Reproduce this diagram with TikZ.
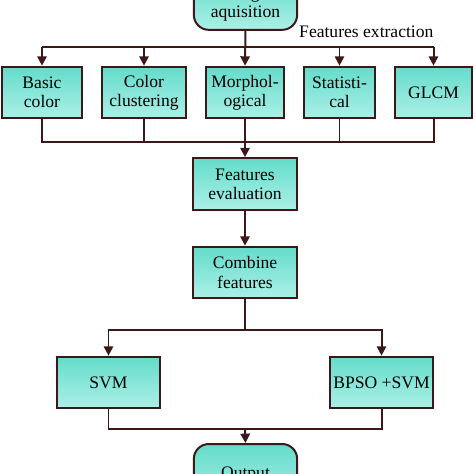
\documentclass[tikz,border=0pt]{standalone}
\usepackage{fontspec}
\setmainfont{Liberation Serif}
\usepackage{xcolor}
\usetikzlibrary{calc,arrows.meta,positioning}
\definecolor{boxtop}{RGB}{100, 220, 202}
\definecolor{boxbottom}{RGB}{172, 240, 231}
\definecolor{linebrown}{RGB}{60, 24, 24}

\tikzset{
    procbox/.style={draw=linebrown, line width=1.7pt, top color=boxtop, bottom color=boxbottom,
        minimum height=1.55cm, align=center, inner sep=1pt, font=\fontsize{15}{16.4}\selectfont},
    termbox/.style={procbox, rounded corners=0.45cm},
    link/.style={linebrown, line width=1.7pt},
    flow/.style={link, -{Triangle[length=8pt, width=8pt]}},
}

\begin{document}
\begin{tikzpicture}[x=0.03cm, y=-0.03cm]
    % Frame of the cut-out
    \useasboundingbox (0,0) rectangle (474,474);
    \clip (0,0) rectangle (474,474);

    % Terminal nodes
    \node[termbox, minimum width=3.1cm] (acq) at (245.5,4) {Image\\aquisition};
    \node[termbox, minimum width=3.1cm, minimum height=1.86cm] (out) at (245.5,475) {Output};

    % Feature extraction row
    \node[procbox, minimum width=2.4cm] (basic) at (42,92.5) {Basic\\color};
    \node[procbox, minimum width=2.53cm] (clust) at (144,92.5) {Color\\clustering};
    \node[procbox, minimum width=2.35cm] (morph) at (245,92.5) {Morphol-\\ogical};
    \node[procbox, minimum width=2.14cm] (stat) at (339.5,92.5) {Statisti-\\cal};
    \node[procbox, minimum width=2.32cm] (glcm) at (433.5,92.5) {GLCM};
    \node[font=\fontsize{15}{16.4}\selectfont, inner sep=0pt, anchor=west] (fextr) at (299,32) {Features extraction};

    % Evaluation and combination
    \node[procbox, minimum width=3.1cm] (feval) at (245,184) {Features\\evaluation};
    \node[procbox, minimum width=3.1cm] (comb) at (245,272.5) {Combine\\features};

    % Classifiers
    \node[procbox, minimum width=3.1cm] (svm) at (108.5,382.5) {SVM};
    \node[procbox, minimum width=3.1cm] (bpso) at (381.5,382.5) {BPSO +SVM};

    % Split and merge points
    \coordinate (split) at (245,47);
    \coordinate (merge) at (245,142);
    \coordinate (fork) at (245,330);
    \coordinate (join) at (245,429);

    % Fan out to the extractors
    \draw[link] (split -| basic.north) -- (split -| glcm.north);
    \draw[flow] (acq.south) -- (morph.north);
    \draw[flow] (split -| basic.north) -- (basic.north);
    \draw[flow] (split -| clust.north) -- (clust.north);
    \draw[flow] (split -| stat.north) -- (stat.north);
    \draw[flow] (split -| glcm.north) -- (glcm.north);

    % Merge into the evaluation
    \draw[link] (basic.south) -- (merge -| basic.south) -- (merge -| glcm.south) -- (glcm.south);
    \draw[link] (clust.south) -- (merge -| clust.south);
    \draw[link] (stat.south) -- (merge -| stat.south);
    \draw[flow] (morph.south) -- (feval.north);
    \draw[flow] (feval.south) -- (comb.north);

    % Two classifiers
    \draw[link] (comb.south) -- (fork);
    \draw[flow] (fork) -| (svm.north);
    \draw[flow] (fork) -| (bpso.north);
    \draw[link] (svm.south) |- (join);
    \draw[link] (bpso.south) |- (join);
    \draw[flow] (join) -- (out.north);
\end{tikzpicture}
\end{document}
